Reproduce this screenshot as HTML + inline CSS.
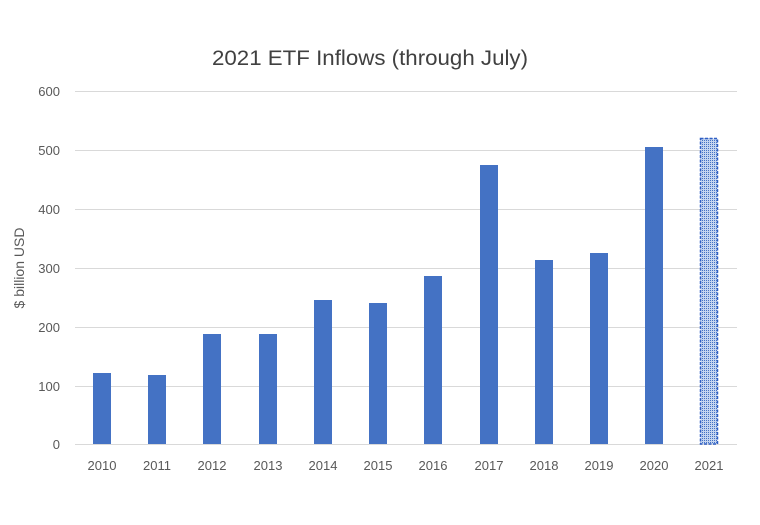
<!DOCTYPE html>
<html><head><meta charset="utf-8"><style>html,body{margin:0;padding:0;background:#fff}</style></head>
<body>
<svg width="760" height="520" viewBox="0 0 760 520" xmlns="http://www.w3.org/2000/svg" font-family="Liberation Sans, sans-serif">
<defs>
<pattern id="dots" width="2" height="2" patternUnits="userSpaceOnUse">
<rect width="2" height="2" fill="#c5d5f0"/>
<rect x="0" y="0" width="1" height="1" fill="#4472c4"/>
</pattern>
</defs>
<text x="370" y="65" font-size="21" fill="#404040" text-anchor="middle" textLength="316" lengthAdjust="spacingAndGlyphs">2021 ETF Inflows (through July)</text>
<g stroke="#d9d9d9" stroke-width="1">
<line x1="75" x2="737" y1="91.5" y2="91.5"/>
<line x1="75" x2="737" y1="150.5" y2="150.5"/>
<line x1="75" x2="737" y1="209.5" y2="209.5"/>
<line x1="75" x2="737" y1="268.5" y2="268.5"/>
<line x1="75" x2="737" y1="327.5" y2="327.5"/>
<line x1="75" x2="737" y1="386.5" y2="386.5"/>
<line x1="75" x2="737" y1="444.5" y2="444.5"/>
</g>
<g font-size="13" fill="#595959" text-anchor="end">
<text x="60" y="96">600</text><text x="60" y="155">500</text><text x="60" y="214">400</text>
<text x="60" y="273">300</text><text x="60" y="332">200</text><text x="60" y="391">100</text><text x="60" y="449">0</text>
</g>
<text transform="translate(24,268) rotate(-90)" font-size="14" fill="#595959" text-anchor="middle">$ billion USD</text>
<g fill="#4472c4">
<rect x="93" y="373" width="18" height="71"/>
<rect x="148" y="375" width="18" height="69"/>
<rect x="203" y="334" width="18" height="110"/>
<rect x="259" y="334" width="18" height="110"/>
<rect x="314" y="300" width="18" height="144"/>
<rect x="369" y="303" width="18" height="141"/>
<rect x="424" y="276" width="18" height="168"/>
<rect x="480" y="165" width="18" height="279"/>
<rect x="535" y="260" width="18" height="184"/>
<rect x="590" y="253" width="18" height="191"/>
<rect x="645" y="147" width="18" height="297"/>
</g>
<rect x="700.5" y="138.5" width="17" height="305.5" fill="url(#dots)" stroke="#2f5fc4" stroke-width="1.5" stroke-dasharray="3,1.5"/>
<g font-size="13" fill="#595959" text-anchor="middle">
<text x="102" y="470">2010</text><text x="157" y="470">2011</text><text x="212" y="470">2012</text>
<text x="268" y="470">2013</text><text x="323" y="470">2014</text><text x="378" y="470">2015</text>
<text x="433" y="470">2016</text><text x="489" y="470">2017</text><text x="544" y="470">2018</text>
<text x="599" y="470">2019</text><text x="654" y="470">2020</text><text x="709" y="470">2021</text>
</g>
</svg>
</body></html>
